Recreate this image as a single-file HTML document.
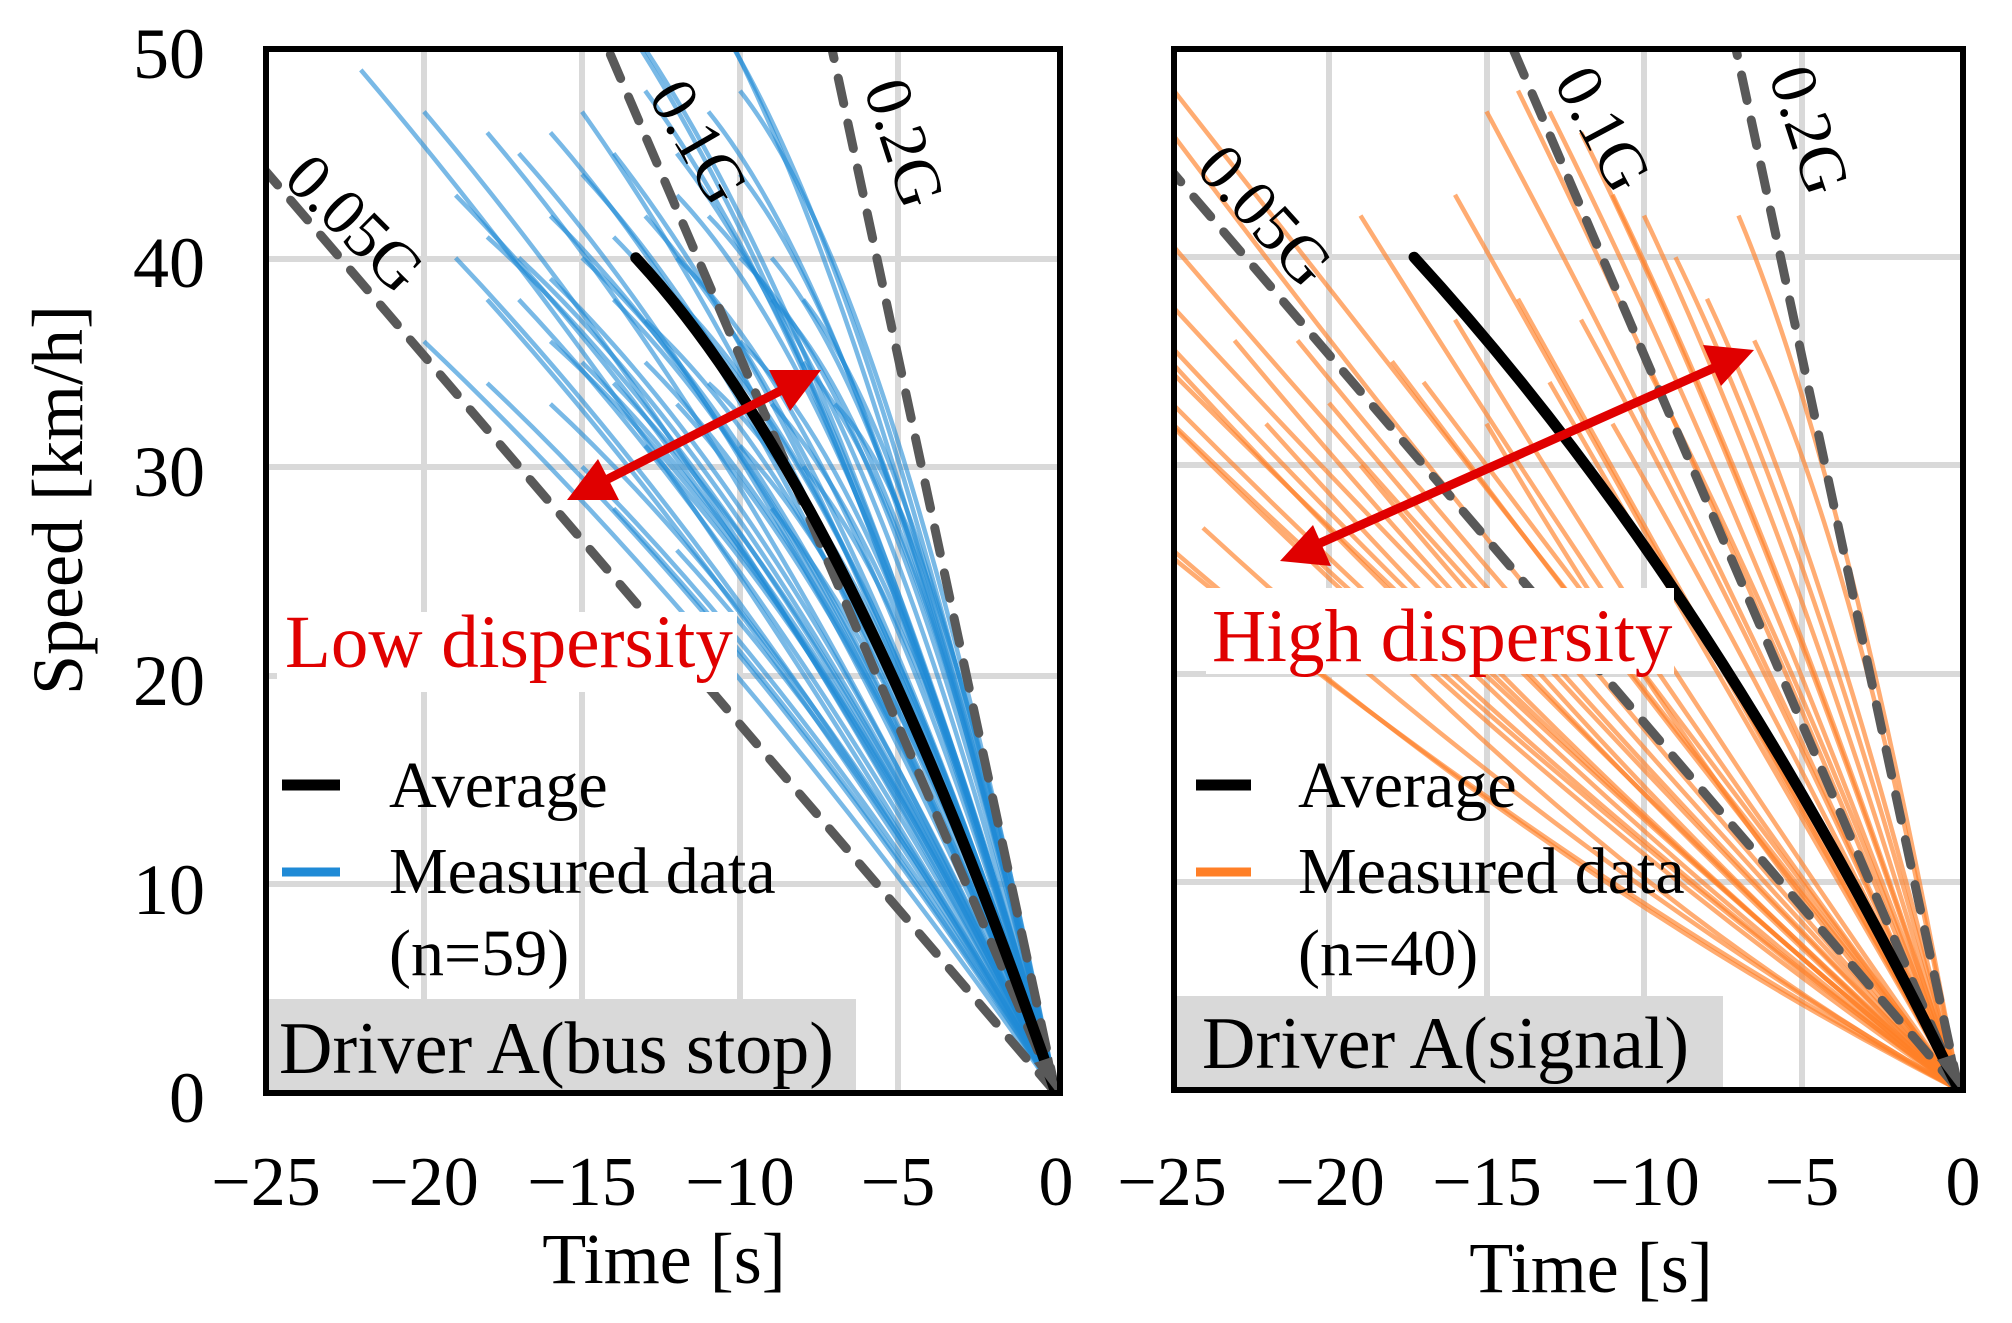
<!DOCTYPE html>
<html><head><meta charset="utf-8">
<style>
html,body{margin:0;padding:0;background:#fff;}
svg{display:block;font-family:"Liberation Serif",serif;}
.b path{fill:none;stroke:#1f8ad6;stroke-opacity:0.6;stroke-width:4.5;vector-effect:non-scaling-stroke;}
.o path{fill:none;stroke:#ff7f27;stroke-opacity:0.65;stroke-width:4.5;vector-effect:non-scaling-stroke;}
.g{stroke:#d9d9d9;stroke-width:6}
.d{stroke:#595959;stroke-width:9;stroke-dasharray:26 20;stroke-linecap:round}
</style></head>
<body>
<svg width="2012" height="1323" viewBox="0 0 2012 1323" xmlns="http://www.w3.org/2000/svg">
<defs>
<clipPath id="cl"><rect x="266" y="49" width="794" height="1044"/></clipPath>
<clipPath id="cr"><rect x="1174" y="49" width="789" height="1041"/></clipPath>
</defs>

<!-- LEFT PANEL -->
<g clip-path="url(#cl)">
<line class="g" x1="424" x2="424" y1="49" y2="1093"/><line class="g" x1="582" x2="582" y1="49" y2="1093"/>
<line class="g" x1="740" x2="740" y1="49" y2="1093"/><line class="g" x1="898" x2="898" y1="49" y2="1093"/>
<line class="g" x1="266" x2="1060" y1="259" y2="259"/><line class="g" x1="266" x2="1060" y1="467" y2="467"/>
<line class="g" x1="266" x2="1060" y1="676" y2="676"/><line class="g" x1="266" x2="1060" y1="884" y2="884"/>
<g class="b" transform="translate(1056,1093) scale(31.6,-20.88)">
<path d="M-22 49Q-11 29.4 0 0"/><path d="M-20 47Q-10 29.1 0 0"/><path d="M-18 46Q-9 29.9 0 0"/>
<path d="M-17 45Q-8.5 30.6 0 0"/><path d="M-16 46Q-8 32.2 0 0"/><path d="M-15 44Q-7.5 31.7 0 0"/>
<path d="M-14 45Q-7 31.5 0 0"/><path d="M-19 43Q-9.5 28.4 0 0"/><path d="M-18 41Q-9 28.7 0 0"/>
<path d="M-16 42Q-8 30.2 0 0"/><path d="M-15 40Q-7.5 29.6 0 0"/><path d="M-14 38Q-7 27.4 0 0"/>
<path d="M-17 38Q-8.5 24.3 0 0"/><path d="M-20 36Q-10 21.6 0 0"/><path d="M-16 33Q-8 21.8 0 0"/>
<path d="M-15 30Q-7.5 18.6 0 0"/><path d="M-18 34Q-9 21.1 0 0"/><path d="M-13 37Q-6.5 28.1 0 0"/>
<path d="M-12 40Q-6 31.2 0 0"/><path d="M-11 42Q-5.5 33.6 0 0"/><path d="M-12 45Q-6 33.3 0 0"/>
<path d="M-13 48Q-6.5 34.6 0 0"/><path d="M-14 52Q-7 36.4 0 0"/><path d="M-12 55Q-6 40.7 0 0"/>
<path d="M-11 52Q-5.5 39.5 0 0"/><path d="M-10 48Q-5 38.4 0 0"/><path d="M-10 44Q-5 34.3 0 0"/>
<path d="M-9 40Q-4.5 32 0 0"/><path d="M-9 38Q-4.5 31.2 0 0"/><path d="M-8 35Q-4 28 0 0"/>
<path d="M-11 36Q-5.5 26.6 0 0"/><path d="M-12 33Q-6 23.1 0 0"/><path d="M-13 31Q-6.5 20.5 0 0"/>
<path d="M-10 31Q-5 22.9 0 0"/><path d="M-9 28Q-4.5 19.6 0 0"/><path d="M-14 28Q-7 16.8 0 0"/>
<path d="M-12 26Q-6 16.1 0 0"/><path d="M-16 36Q-8 25.2 0 0"/><path d="M-17 40Q-8.5 28 0 0"/>
<path d="M-15 35Q-7.5 23.8 0 0"/><path d="M-13 42Q-6.5 31.1 0 0"/><path d="M-12 38Q-6 28.9 0 0"/>
<path d="M-11 34Q-5.5 26.5 0 0"/><path d="M-10 36Q-5 28.8 0 0"/><path d="M-9 33Q-4.5 25.7 0 0"/>
<path d="M-8 30Q-4 22.8 0 0"/><path d="M-14 41Q-7 30.3 0 0"/><path d="M-13 35Q-6.5 25.2 0 0"/>
<path d="M-16 39Q-8 27.3 0 0"/><path d="M-19 40Q-9.5 24.8 0 0"/><path d="M-15 47Q-7.5 31 0 0"/>
<path d="M-13 50Q-6.5 35 0 0"/><path d="M-11 47Q-5.5 36.7 0 0"/><path d="M-10 40Q-5 32.8 0 0"/>
<path d="M-12 43Q-6 33.5 0 0"/><path d="M-7 33Q-3.5 27.7 0 0"/><path d="M-8 38Q-4 30.4 0 0"/>
<path d="M-14 34Q-7 23.1 0 0"/><path d="M-18 38Q-9 22.8 0 0"/>
</g>
<line class="d" x1="1056" y1="1093" x2="161" y2="49"/>
<line class="d" x1="1056" y1="1093" x2="608" y2="49"/>
<line class="d" x1="1056" y1="1093" x2="832" y2="49"/>
<path d="M-13.3 40Q-6.65 29.2 0 0" transform="translate(1056,1093) scale(31.6,-20.88)" fill="none" stroke="#000" stroke-width="11" stroke-linecap="round" style="vector-effect:non-scaling-stroke"/>
<polygon points="1060,1097 1034,1063 1052,1057" fill="#595959"/>
</g>
<line x1="604" y1="481" x2="784" y2="389" stroke="#e00000" stroke-width="9"/>
<polygon points="821,370 769,370 790,411" fill="#e00000"/>
<polygon points="567,500 598,459 619,500" fill="#e00000"/>
<rect x="277" y="612" width="460" height="80" fill="#fff"/>
<text x="285" y="667" font-size="75" fill="#e00000">Low dispersity</text>
<text transform="translate(350,228) rotate(45)" font-size="66" text-anchor="middle" dominant-baseline="middle">0.05G</text>
<text transform="translate(693,145) rotate(60)" font-size="66" text-anchor="middle" dominant-baseline="middle">0.1G</text>
<text transform="translate(898,145) rotate(72)" font-size="66" text-anchor="middle" dominant-baseline="middle">0.2G</text>
<line x1="282" x2="340" y1="785" y2="785" stroke="#000" stroke-width="11"/>
<line x1="282" x2="340" y1="872" y2="872" stroke="#1f8ad6" stroke-width="9"/>
<text x="389" y="807" font-size="66">Average</text>
<text x="389" y="893" font-size="66">Measured data</text>
<text x="389" y="975" font-size="66">(n=59)</text>
<rect x="266" y="999" width="590" height="94" fill="#d9d9d9"/>
<text x="279" y="1073" font-size="74">Driver A(bus stop)</text>
<rect x="266" y="49" width="794" height="1044" fill="none" stroke="#000" stroke-width="6"/>

<!-- RIGHT PANEL -->
<g clip-path="url(#cr)">
<line class="g" x1="1329" x2="1329" y1="49" y2="1090"/><line class="g" x1="1487" x2="1487" y1="49" y2="1090"/>
<line class="g" x1="1644" x2="1644" y1="49" y2="1090"/><line class="g" x1="1802" x2="1802" y1="49" y2="1090"/>
<line class="g" x1="1174" x2="1963" y1="257" y2="257"/><line class="g" x1="1174" x2="1963" y1="465" y2="465"/>
<line class="g" x1="1174" x2="1963" y1="674" y2="674"/><line class="g" x1="1174" x2="1963" y1="882" y2="882"/>
<g class="o" transform="translate(1959,1090) scale(31.5,-20.82)">
<path d="M-27 52Q-13.5 26 0 0"/><path d="M-26 48Q-13 21.6 0 0"/><path d="M-28 46Q-14 20.7 0 0"/>
<path d="M-30 44Q-15 18.5 0 0"/><path d="M-27 41Q-13.5 18.5 0 0"/><path d="M-28 40Q-14 16 0 0"/>
<path d="M-29 38Q-14.5 16 0 0"/><path d="M-26 36Q-13 16.2 0 0"/><path d="M-27 35Q-13.5 14 0 0"/>
<path d="M-25 33Q-12.5 13.9 0 0"/><path d="M-30 32Q-15 12.2 0 0"/><path d="M-28 30Q-14 10.8 0 0"/>
<path d="M-22 32Q-11 13.4 0 0"/><path d="M-20 33Q-10 14.9 0 0"/><path d="M-19 30Q-9.5 12.6 0 0"/>
<path d="M-21 36Q-10.5 16.6 0 0"/><path d="M-18 35Q-9 16.8 0 0"/><path d="M-17 34Q-8.5 17 0 0"/>
<path d="M-19 42Q-9.5 18.9 0 0"/><path d="M-16 43Q-8 21.5 0 0"/><path d="M-15 47Q-7.5 25.9 0 0"/>
<path d="M-14 48Q-7 26.4 0 0"/><path d="M-13 47Q-6.5 27.3 0 0"/><path d="M-12 46Q-6 27.6 0 0"/>
<path d="M-11 43Q-5.5 25.8 0 0"/><path d="M-10 42Q-5 26 0 0"/><path d="M-9 40Q-4.5 26 0 0"/>
<path d="M-8 38Q-4 25.1 0 0"/><path d="M-7 42Q-3.5 29.4 0 0"/><path d="M-6.5 36Q-3.25 25.9 0 0"/>
<path d="M-12 37Q-6 20.4 0 0"/><path d="M-14 38Q-7 19 0 0"/><path d="M-16 37Q-8 17 0 0"/>
<path d="M-15 32Q-7.5 12.8 0 0"/><path d="M-13 34Q-6.5 17 0 0"/><path d="M-11 32Q-5.5 17.6 0 0"/>
<path d="M-10 35Q-5 20.3 0 0"/><path d="M-23 36Q-11.5 15.1 0 0"/><path d="M-24 27Q-12 10.3 0 0"/>
<path d="M-20 24Q-10 8.4 0 0"/>
</g>
<line class="d" x1="1959" y1="1090" x2="1067" y2="49"/>
<line class="d" x1="1959" y1="1090" x2="1513" y2="49"/>
<line class="d" x1="1959" y1="1090" x2="1736" y2="49"/>
<path d="M-17.3 40C-11.5 30.4 -5.77 17.9 0 0" transform="translate(1959,1090) scale(31.5,-20.82)" fill="none" stroke="#000" stroke-width="11" stroke-linecap="round" style="vector-effect:non-scaling-stroke"/>
<polygon points="1963,1094 1937,1060 1955,1054" fill="#595959"/>
</g>
<line x1="1318" y1="544" x2="1716" y2="367" stroke="#e00000" stroke-width="9"/>
<polygon points="1754,350 1703,345 1721,386" fill="#e00000"/>
<polygon points="1280,561 1313,525 1331,566" fill="#e00000"/>
<rect x="1206" y="588" width="468" height="86" fill="#fff"/>
<text x="1212" y="661" font-size="75" fill="#e00000">High dispersity</text>
<text transform="translate(1260,220) rotate(48)" font-size="66" text-anchor="middle" dominant-baseline="middle">0.05G</text>
<text transform="translate(1597,132) rotate(62)" font-size="66" text-anchor="middle" dominant-baseline="middle">0.1G</text>
<text transform="translate(1803,132) rotate(72)" font-size="66" text-anchor="middle" dominant-baseline="middle">0.2G</text>
<line x1="1196" x2="1251" y1="785" y2="785" stroke="#000" stroke-width="11"/>
<line x1="1196" x2="1251" y1="872" y2="872" stroke="#ff7f27" stroke-width="9"/>
<text x="1298" y="807" font-size="66">Average</text>
<text x="1298" y="893" font-size="66">Measured data</text>
<text x="1298" y="975" font-size="66">(n=40)</text>
<rect x="1174" y="996" width="549" height="94" fill="#d9d9d9"/>
<text x="1202" y="1068" font-size="74">Driver A(signal)</text>
<rect x="1174" y="49" width="789" height="1041" fill="none" stroke="#000" stroke-width="6"/>

<!-- axes text -->
<g font-size="72" text-anchor="end" fill="#000">
<text x="205" y="78">50</text>
<text x="205" y="287">40</text>
<text x="205" y="496">30</text>
<text x="205" y="705">20</text>
<text x="205" y="914">10</text>
<text x="205" y="1122">0</text>
</g>
<text transform="translate(82,500) rotate(-90)" font-size="72" text-anchor="middle">Speed [km/h]</text>
<g font-size="70" text-anchor="middle">
<text x="266" y="1205">−25</text>
<text x="424" y="1205">−20</text>
<text x="582" y="1205">−15</text>
<text x="740" y="1205">−10</text>
<text x="898" y="1205">−5</text>
<text x="1056" y="1205">0</text>
<text x="1172" y="1205">−25</text>
<text x="1330" y="1205">−20</text>
<text x="1487" y="1205">−15</text>
<text x="1645" y="1205">−10</text>
<text x="1802" y="1205">−5</text>
<text x="1963" y="1205">0</text>
</g>
<text x="664" y="1283" font-size="72" text-anchor="middle">Time [s]</text>
<text x="1591" y="1292" font-size="72" text-anchor="middle">Time [s]</text>
</svg>
</body></html>
